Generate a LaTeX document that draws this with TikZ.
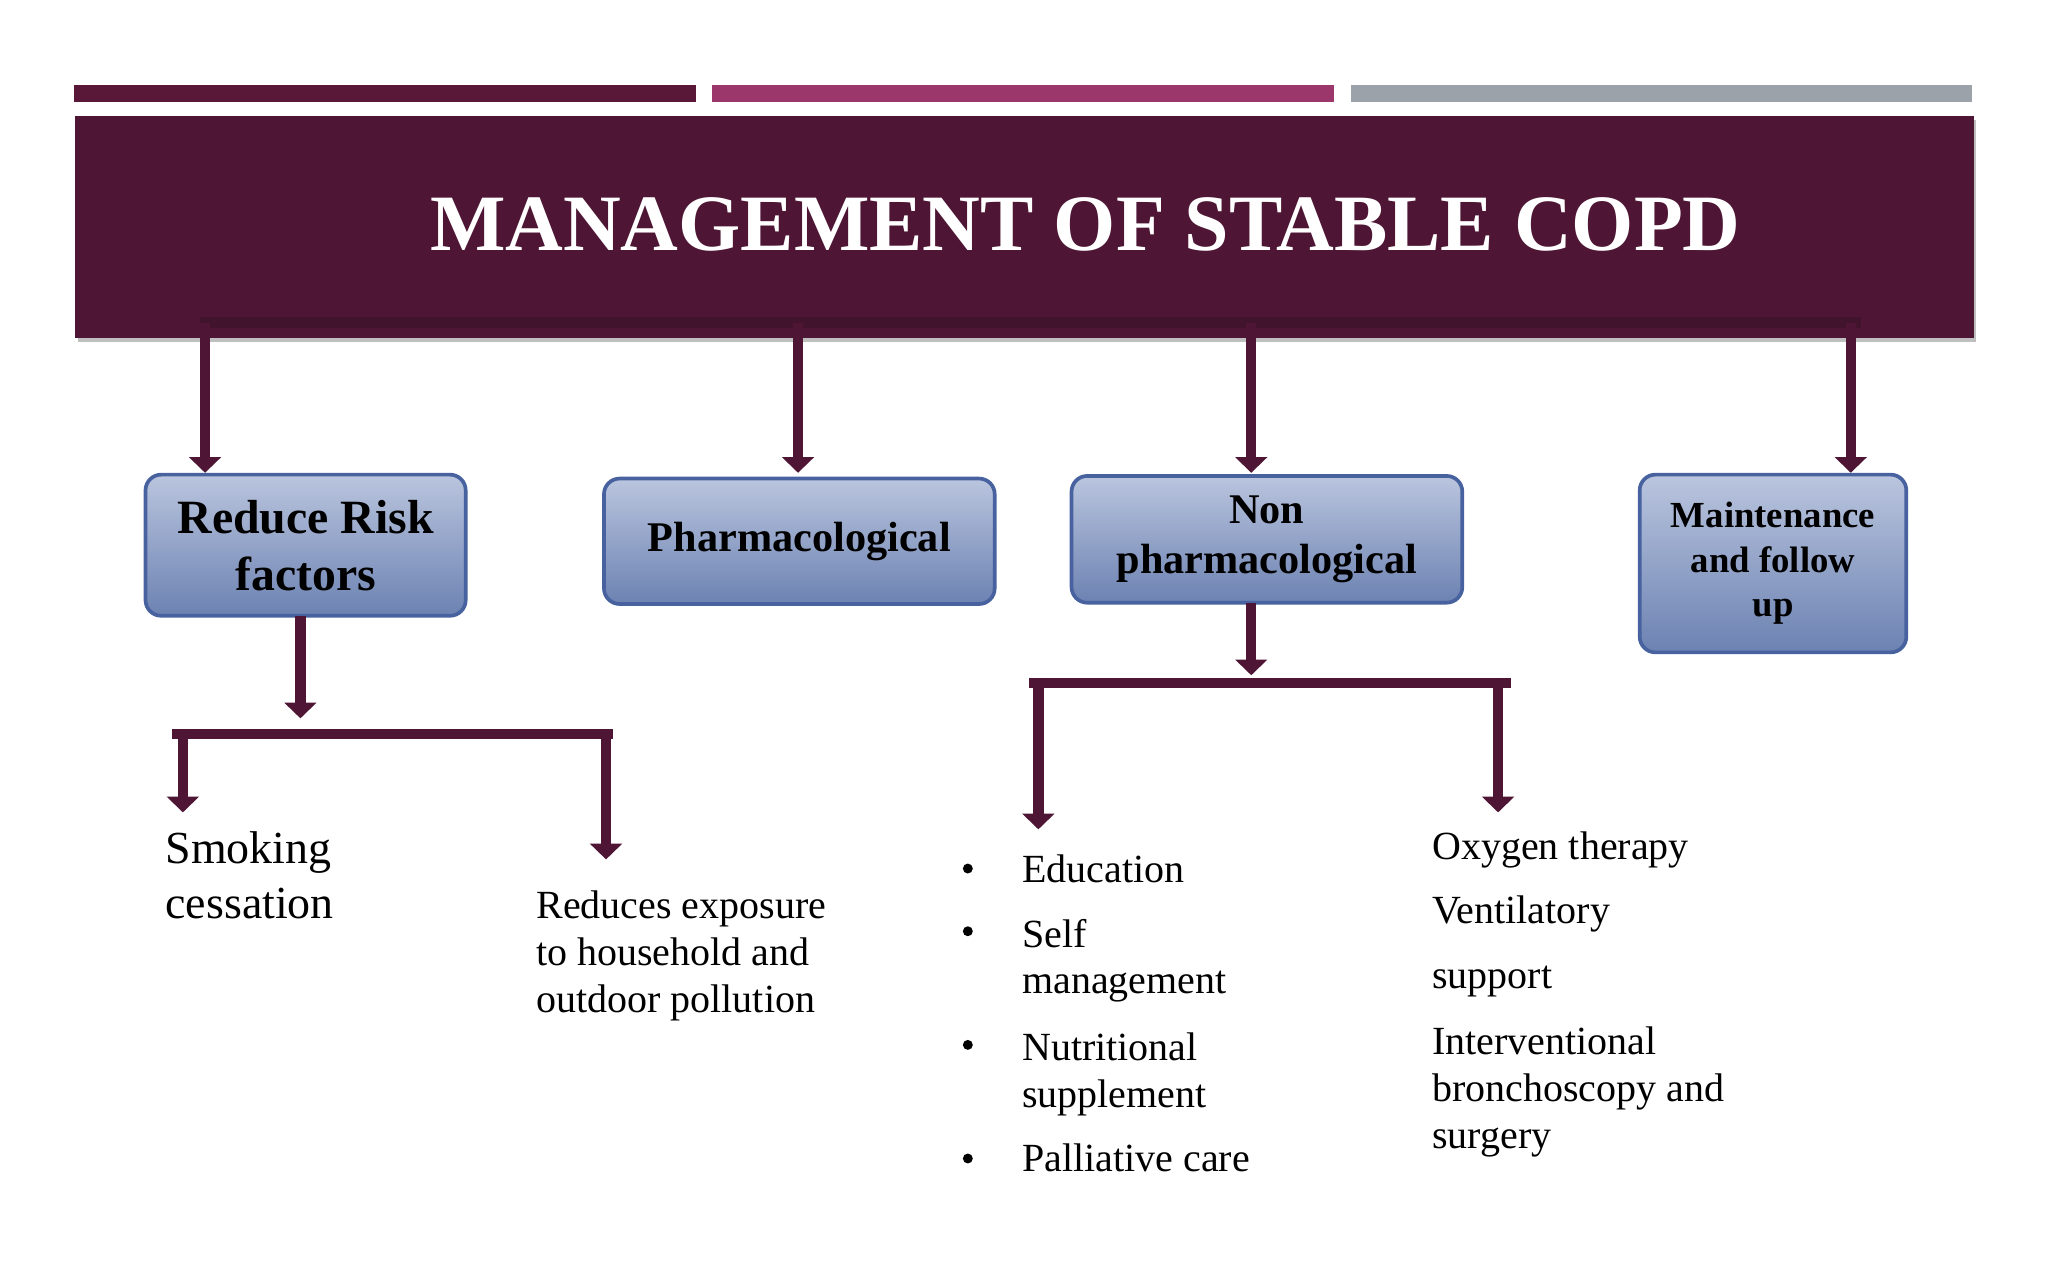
\documentclass[tikz,border=0pt]{standalone}
\usepackage{fontspec}
\setmainfont{Liberation Serif}
\usetikzlibrary{arrows.meta}
\definecolor{maroon}{HTML}{4E1634}
\definecolor{barA}{HTML}{5A1838}
\definecolor{barB}{HTML}{9C376C}
\definecolor{barC}{HTML}{9BA2AA}
\definecolor{boxtop}{HTML}{BAC5DE}
\definecolor{boxbot}{HTML}{6C82B2}
\definecolor{boxline}{HTML}{4862A0}
\begin{document}
\begin{tikzpicture}[x=0.01cm,y=-0.01cm,
  conn/.style={draw=maroon,line width=0.08cm},
  arr/.style={conn,-{Triangle[width=0.24cm,length=0.12cm]}},
  box/.style={draw=boxline,line width=0.8pt,top color=boxtop,bottom color=boxbot,rounded corners=0.12cm,align=center,inner sep=0pt},
  txt/.style={anchor=base west,align=left,inner sep=0pt,font=\fontsize{8.7}{10.2}\selectfont}]
\useasboundingbox (0,0) rectangle (1568,980);
\fill[white] (0,0) rectangle (1568,980);
\fill[barA] (57,65) rectangle (533,78);
\fill[barB] (545,65) rectangle (1021,78);
\fill[barC] (1034,65) rectangle (1510,78);
\fill[black!25] (60,92) rectangle (1513,262);
\node[fill=maroon,minimum width=14.53cm,minimum height=1.70cm,inner sep=0pt,anchor=north west] (banner) at (57,88) {};
\node[text=white,font=\bfseries\fontsize{17.4}{20}\selectfont] (title) at (831,172) {MANAGEMENT OF STABLE COPD};
\node[box,minimum width=2.45cm,minimum height=1.08cm,anchor=north west,font=\bfseries\fontsize{10.4}{12.4}\selectfont] (b1) at (110,362) {Reduce Risk\\factors};
\node[box,minimum width=2.99cm,minimum height=0.96cm,anchor=north west,font=\bfseries\fontsize{9.2}{11}\selectfont] (b2) at (461,365) {Pharmacological};
\node[box,minimum width=2.99cm,minimum height=0.97cm,anchor=north west,font=\bfseries\fontsize{9.2}{11}\selectfont] (b3) at (819,363) {Non\\pharmacological};
\node[box,minimum width=2.04cm,minimum height=1.36cm,anchor=north west,font=\bfseries\fontsize{8}{9.7}\selectfont] (b4) at (1254,362) {Maintenance\\and follow\\up};
\coordinate (hl) at (153,247); \coordinate (hr) at (1425,247);
\draw[conn,draw=maroon!85!black] (hl) -- (hr);
\foreach \x/\n in {157/b1,611/b2,958/b3,1417/b4}{\draw[arr] (\x,247) -- (\x,362);}
% Reduce risk branch
\coordinate (s1) at (230,472); \coordinate (m1) at (230,550);
\draw[arr] (s1) -- (m1);
\draw[conn] (132,562) -- (469,562);
\coordinate (e1) at (140,622); \coordinate (e2) at (464,658);
\draw[arr] (140,558) -- (e1);
\draw[arr] (464,558) -- (e2);
\node[txt,font=\fontsize{10}{11.9}\selectfont] (t1) at (126,703) {Smoking\\cessation};
\node[txt] (t2) at (410,775) {Reduces exposure\\to household and\\outdoor pollution};
% Non pharm branch
\coordinate (s3) at (958,462);
\draw[arr] (s3) -- (958,517);
\draw[conn] (788,523) -- (1157,523);
\coordinate (e3) at (795,635); \coordinate (e4) at (1147,622);
\draw[arr] (795,519) -- (e3);
\draw[arr] (1147,519) -- (e4);
\node[txt] (u1) at (782,676) {Education};
\node[txt] (u2) at (782,761) {Self\\management};
\node[txt] (u3) at (782,848) {Nutritional\\supplement};
\node[txt] (u4) at (782,897) {Palliative care};
\foreach \y in {665,713,800,887}{\fill (741,\y) circle (3.8);}
\node[txt] (v1) at (1096,658) {Oxygen therapy};
\node[txt] (v2) at (1096,707) {Ventilatory};
\node[txt] (v3) at (1096,757) {support};
\node[txt] (v4) at (1096,879) {Interventional\\bronchoscopy and\\surgery};
\end{tikzpicture}
\end{document}
